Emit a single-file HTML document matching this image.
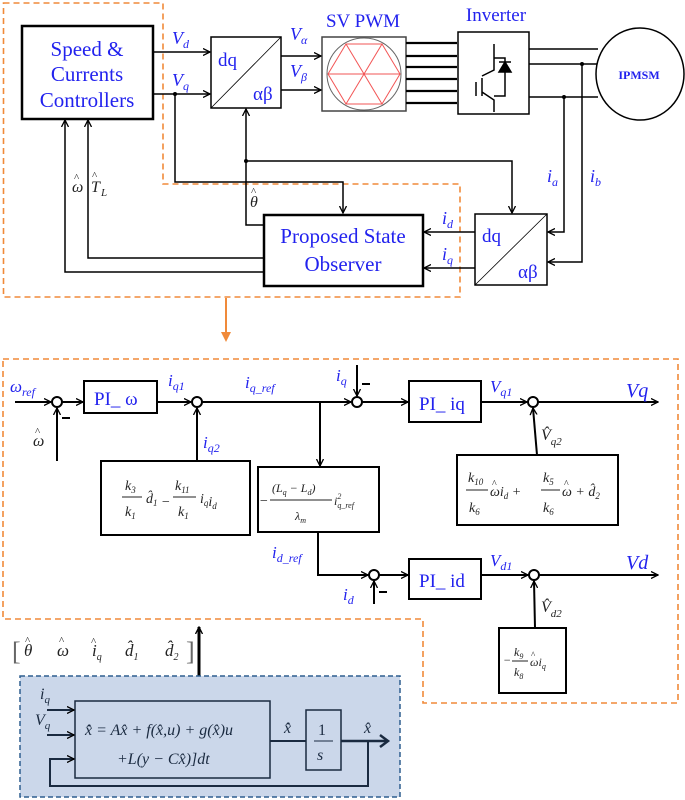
<!DOCTYPE html>
<html><head><meta charset="utf-8"><style>
html,body{margin:0;padding:0;background:#fff}
svg{display:block}
text{font-family:"Liberation Serif",serif}
.b{fill:#2222ee}
.k{fill:#222}
</style></head><body>
<svg width="685" height="800" viewBox="0 0 685 800" xmlns="http://www.w3.org/2000/svg">
<defs>
<marker id="a" markerWidth="8" markerHeight="8" refX="7" refY="4" orient="auto" markerUnits="userSpaceOnUse"><path d="M0,0.5 L7,4 L0,7.5" fill="none" stroke="#000" stroke-width="1.3"/></marker>
<marker id="o" markerWidth="12" markerHeight="12" refX="6" refY="6" orient="auto" markerUnits="userSpaceOnUse"><path d="M0,1 L10,6 L0,11 Z" fill="#f08a3a"/></marker>
</defs>
<g fill="none" stroke="#f08a3a" stroke-width="1.6" stroke-dasharray="6,4">
<path d="M3.5,3 H163 V184 H460 V297 H3.5 Z"/>
<path d="M3,359 H678 V703 H423 V619 H3 Z"/>
</g>
<line x1="226" y1="298" x2="226" y2="338" stroke="#f08a3a" stroke-width="2" marker-end="url(#o)"/>

<g stroke="#000" stroke-width="1.5" fill="none">
<rect x="22" y="26" width="131" height="93" stroke-width="2.5"/>
<rect x="211" y="37" width="70" height="71"/><line x1="211" y1="108" x2="281" y2="37" stroke-width="0.8"/>
<rect x="322" y="37" width="84" height="74" stroke="#444"/>
<rect x="458" y="32" width="71" height="82"/>
<ellipse cx="640" cy="74" rx="44" ry="46"/>
<rect x="475" y="214" width="72" height="71"/><line x1="475" y1="285" x2="547" y2="214" stroke-width="0.8"/>
<rect x="264" y="215" width="159" height="71" stroke-width="2.5"/>
<line x1="153" y1="52" x2="210" y2="52" marker-end="url(#a)"/>
<line x1="153" y1="94" x2="210" y2="94" marker-end="url(#a)"/>
<line x1="281" y1="56" x2="321" y2="56" marker-end="url(#a)"/>
<line x1="281" y1="90" x2="321" y2="90" marker-end="url(#a)"/>
<g stroke-width="2.2"><line x1="406" y1="43" x2="457" y2="43"/><line x1="406" y1="56" x2="457" y2="56"/><line x1="406" y1="67" x2="457" y2="67"/><line x1="406" y1="79" x2="457" y2="79"/><line x1="406" y1="91" x2="457" y2="91"/><line x1="406" y1="103" x2="457" y2="103"/></g>
<line x1="529" y1="49" x2="598" y2="49"/><line x1="529" y1="64" x2="597" y2="64"/><line x1="529" y1="97" x2="598" y2="97"/>
<path d="M582,64 V262 H548" marker-end="url(#a)"/>
<path d="M564,97 V232 H548" marker-end="url(#a)"/>
<path d="M475,232 H424" marker-end="url(#a)"/>
<path d="M475,268 H424" marker-end="url(#a)"/>
<path d="M264,225 H246 V109" marker-end="url(#a)"/>
<path d="M246,161 H512 V213" marker-end="url(#a)"/>
<path d="M175,94 V182 H343 V213" marker-end="url(#a)"/>
<path d="M264,272 H65 V120" marker-end="url(#a)"/>
<path d="M264,258 H88 V120" marker-end="url(#a)"/>
<path d="M494,44 V70 L482,76 M482,78 V96 M476,82 V96 M482,92 L494,100 V112 M494,58 H505 V96 H494"/>
<path d="M499,72 H511 L505,62 Z" fill="#000"/><line x1="499" y1="62" x2="511" y2="62"/>
</g>
<g fill="#000"><circle cx="175" cy="94" r="2"/><circle cx="246" cy="161" r="2"/><circle cx="582" cy="64" r="2"/><circle cx="564" cy="97" r="2"/></g>
<ellipse cx="364" cy="74" rx="37" ry="36" fill="none" stroke="#666" stroke-width="1"/>
<g stroke="#f25555" stroke-width="1" fill="none">
<polygon points="346,44 382,44 400,74 382,104 346,104 328,74"/>
<line x1="346" y1="44" x2="382" y2="104"/><line x1="382" y1="44" x2="346" y2="104"/><line x1="328" y1="74" x2="400" y2="74"/>
</g>
<g class="b" font-size="21" text-anchor="middle">
<text x="87" y="56">Speed &amp;</text><text x="87" y="81">Currents</text><text x="87" y="107">Controllers</text>
<text x="343" y="243">Proposed State</text><text x="343" y="271">Observer</text>
</g>
<text x="363" y="27" font-size="19" text-anchor="middle" class="b">SV PWM</text>
<text x="496" y="21" font-size="19" text-anchor="middle" class="b">Inverter</text>
<text x="639" y="79" font-size="12" font-weight="bold" text-anchor="middle" class="b">IPMSM</text>
<g class="b" font-size="19"><text x="218" y="66">dq</text><text x="253" y="100">αβ</text><text x="482" y="242">dq</text><text x="518" y="278">αβ</text></g>
<g class="b" font-style="italic" font-size="18">
<text x="172" y="44">V<tspan font-size="12" dy="4">d</tspan></text>
<text x="172" y="86">V<tspan font-size="12" dy="4">q</tspan></text>
<text x="290" y="40">V<tspan font-size="12" dy="4">α</tspan></text>
<text x="290" y="77">V<tspan font-size="12" dy="4">β</tspan></text>
<text x="547" y="182">i<tspan font-size="12" dy="4">a</tspan></text>
<text x="590" y="182">i<tspan font-size="12" dy="4">b</tspan></text>
<text x="442" y="224">i<tspan font-size="12" dy="4">d</tspan></text>
<text x="442" y="260">i<tspan font-size="12" dy="4">q</tspan></text>
</g>
<g class="k" font-style="italic" font-size="16">
<text x="72" y="192">ω</text><text x="74" y="181" font-size="11" font-style="normal">^</text>
<text x="91" y="192">T</text><text x="92" y="179" font-size="11" font-style="normal">^</text><text x="101" y="196" font-size="11">L</text>
<text x="250" y="207">θ</text><text x="251" y="195" font-size="11" font-style="normal">^</text>
</g>

<g stroke="#000" stroke-width="2" fill="none">
<rect x="84" y="381" width="73" height="32"/>
<rect x="409" y="381" width="72" height="41"/>
<rect x="409" y="559" width="72" height="40"/>
<rect x="101" y="461" width="149" height="74"/>
<rect x="258" y="467" width="121" height="65"/>
<rect x="457" y="455" width="161" height="70"/>
<rect x="499" y="628" width="67" height="65"/>
<circle cx="57" cy="402" r="5"/><circle cx="197" cy="402" r="5"/><circle cx="357" cy="402" r="5"/><circle cx="533" cy="402" r="5"/>
<circle cx="374" cy="575" r="5"/><circle cx="534" cy="575" r="5"/>
<line x1="15" y1="402" x2="51" y2="402" marker-end="url(#a)"/>
<line x1="62" y1="402" x2="83" y2="402" marker-end="url(#a)"/>
<line x1="57" y1="461" x2="57" y2="408" marker-end="url(#a)"/>
<line x1="157" y1="402" x2="191" y2="402" marker-end="url(#a)"/>
<line x1="197" y1="461" x2="197" y2="408" marker-end="url(#a)"/>
<line x1="202" y1="402" x2="351" y2="402" marker-end="url(#a)"/>
<line x1="320" y1="402" x2="320" y2="466" marker-end="url(#a)"/>
<line x1="357" y1="365" x2="357" y2="396" marker-end="url(#a)"/>
<line x1="362" y1="402" x2="408" y2="402" marker-end="url(#a)"/>
<line x1="481" y1="402" x2="527" y2="402" marker-end="url(#a)"/>
<line x1="538" y1="402" x2="658" y2="402" marker-end="url(#a)"/>
<line x1="537" y1="455" x2="533" y2="408" marker-end="url(#a)"/>
<path d="M318,532 V575 H368" marker-end="url(#a)"/>
<line x1="374" y1="604" x2="374" y2="581" marker-end="url(#a)"/>
<line x1="379" y1="575" x2="408" y2="575" marker-end="url(#a)"/>
<line x1="481" y1="575" x2="528" y2="575" marker-end="url(#a)"/>
<line x1="539" y1="575" x2="658" y2="575" marker-end="url(#a)"/>
<line x1="535" y1="628" x2="534" y2="581" marker-end="url(#a)"/>
<line x1="62" y1="418" x2="70" y2="418"/><line x1="362" y1="384" x2="370" y2="384"/><line x1="379" y1="592" x2="387" y2="592"/>
</g>
<g class="b" font-size="19"><text x="94" y="405">PI_ ω</text><text x="419" y="410">PI_ iq</text><text x="419" y="587">PI_ id</text></g>
<g class="b" font-style="italic" font-size="17">
<text x="10" y="392">ω<tspan font-size="12" dy="4">ref</tspan></text>
<text x="168" y="386">i<tspan font-size="12" dy="4">q1</tspan></text>
<text x="203" y="448">i<tspan font-size="12" dy="4">q2</tspan></text>
<text x="245" y="388">i<tspan font-size="12" dy="4">q_ref</tspan></text>
<text x="336" y="381">i<tspan font-size="12" dy="4">q</tspan></text>
<text x="490" y="392">V<tspan font-size="12" dy="4">q1</tspan></text>
<text x="626" y="397" font-size="20">Vq</text>
<text x="272" y="558">i<tspan font-size="12" dy="4">d_ref</tspan></text>
<text x="343" y="600">i<tspan font-size="12" dy="4">d</tspan></text>
<text x="490" y="566">V<tspan font-size="12" dy="4">d1</tspan></text>
<text x="626" y="569" font-size="20">Vd</text>
</g>
<g class="k" font-style="italic" font-size="16">
<text x="33" y="446">ω</text><text x="35" y="435" font-size="11" font-style="normal">^</text>
<text x="541" y="440">V̂<tspan font-size="11" dy="5">q2</tspan></text>
<text x="541" y="612">V̂<tspan font-size="11" dy="5">d2</tspan></text>
</g>
<g class="k" font-style="italic" font-size="14">
<text x="125" y="490">k<tspan font-size="9" dy="3">3</tspan></text><line x1="122" y1="497" x2="142" y2="497" stroke="#222"/><text x="125" y="516">k<tspan font-size="9" dy="3">1</tspan></text>
<text x="146" y="503">d̂<tspan font-size="9" dy="3">1</tspan> −</text>
<text x="175" y="490">k<tspan font-size="9" dy="3">11</tspan></text><line x1="173" y1="497" x2="196" y2="497" stroke="#222"/><text x="178" y="516">k<tspan font-size="9" dy="3">1</tspan></text>
<text x="200" y="503">i<tspan font-size="9" dy="3">q</tspan>i<tspan font-size="9" dy="3">d</tspan></text>
<text x="259" y="505">−</text>
<text x="272" y="492" font-size="12">(L<tspan font-size="8" dy="3">q</tspan><tspan dy="-3"> − L</tspan><tspan font-size="8" dy="3">d</tspan><tspan dy="-3">)</tspan></text>
<line x1="270" y1="500" x2="332" y2="500" stroke="#222"/>
<text x="295" y="520" font-size="12">λ<tspan font-size="8" dy="3">m</tspan></text>
<text x="334" y="505" font-size="12">i<tspan font-size="8" dy="-6">2</tspan><tspan font-size="8" dx="-4" dy="9">q_ref</tspan></text>
<text x="468" y="482">k<tspan font-size="9" dy="3">10</tspan></text><line x1="466" y1="490" x2="488" y2="490" stroke="#222"/><text x="469" y="512">k<tspan font-size="9" dy="3">6</tspan></text>
<text x="490" y="496">ωi<tspan font-size="9" dy="3">d</tspan><tspan dy="-3"> +</tspan></text><text x="492" y="487" font-size="10" font-style="normal">^</text>
<text x="543" y="482">k<tspan font-size="9" dy="3">5</tspan></text><line x1="541" y1="490" x2="560" y2="490" stroke="#222"/><text x="543" y="512">k<tspan font-size="9" dy="3">6</tspan></text>
<text x="562" y="496">ω + d̂<tspan font-size="9" dy="3">2</tspan></text><text x="564" y="487" font-size="10" font-style="normal">^</text>
<text x="503" y="664" font-size="12">−</text>
<text x="514" y="656" font-size="12">k<tspan font-size="8" dy="3">9</tspan></text><line x1="512" y1="661" x2="528" y2="661" stroke="#222"/><text x="514" y="676" font-size="12">k<tspan font-size="8" dy="3">8</tspan></text>
<text x="530" y="666" font-size="12">ωi<tspan font-size="8" dy="3">q</tspan></text><text x="531" y="658" font-size="9" font-style="normal">^</text>
</g>

<g class="k" font-style="italic" font-size="17">
<text x="12" y="660" font-style="normal" font-size="26" fill="#666">[</text>
<text x="24" y="656">θ</text><text x="25" y="644" font-size="11" font-style="normal">^</text>
<text x="57" y="656">ω</text><text x="59" y="644" font-size="11" font-style="normal">^</text>
<text x="92" y="656">i<tspan font-size="10" dy="4">q</tspan></text><text x="91" y="645" font-size="11" font-style="normal">^</text>
<text x="125" y="656">d̂<tspan font-size="10" dy="4">1</tspan></text><text x="165" y="656">d̂<tspan font-size="10" dy="4">2</tspan></text>
<text x="186" y="660" font-style="normal" font-size="26" fill="#666">]</text>
</g>
<line x1="199" y1="676" x2="199" y2="627" stroke="#000" stroke-width="3" marker-end="url(#a)"/>
<rect x="20" y="676" width="380" height="121" fill="#cbd7ea" stroke="#2e5f8f" stroke-width="1.5" stroke-dasharray="5,3"/>
<g stroke="#1a2a40" stroke-width="2" fill="none">
<rect x="75" y="701" width="195" height="77" stroke-width="1.5"/>
<rect x="306" y="710" width="35" height="60" stroke-width="1.5"/>
<line x1="270" y1="741" x2="306" y2="741"/>
<line x1="341" y1="741" x2="388" y2="741" stroke-width="2.5"/>
<path d="M380,735 L388,741 L380,747" stroke-width="2.5"/>
<path d="M368,741 V786 H50 V759 H74" marker-end="url(#a)"/>
<line x1="47" y1="710" x2="74" y2="710" marker-end="url(#a)"/>
<line x1="47" y1="735" x2="74" y2="735" marker-end="url(#a)"/>
</g>
<g fill="#1a2a40" font-style="italic" font-size="16">
<text x="40" y="699">i<tspan font-size="11" dy="4">q</tspan></text>
<text x="35" y="725">V<tspan font-size="11" dy="4">q</tspan></text>
<text x="85" y="735">x̂̇ = Ax̂ + f(x̂,u) + g(x̂)u</text>
<text x="117" y="764">+L(y − Cx̂)]dt</text>
<text x="284" y="733">x̂̇</text>
<text x="364" y="733">x̂</text>
<text x="318" y="735" font-style="normal">1</text><line x1="314" y1="741" x2="333" y2="741" stroke="#1a2a40"/><text x="317" y="760">s</text>
</g>
</svg>
</body></html>
